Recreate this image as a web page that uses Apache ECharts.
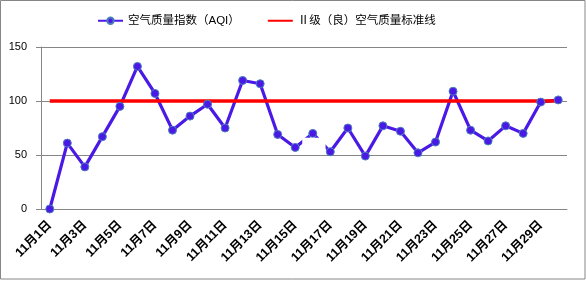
<!DOCTYPE html>
<html><head><meta charset="utf-8">
<script src="https://cdn.jsdelivr.net/npm/echarts@6/dist/echarts.min.js"></script>
<style>html,body{margin:0;padding:0;background:#fff}#c{width:586px;height:281px}</style>
</head><body><div id="c"></div>
<script>
var days = [];
for (var d = 1; d <= 30; d++) days.push('11月' + d + '日');
var aqiName = '空气质量指数（AQI）';
var stdName = 'Ⅱ级（良）空气质量标准线';
var aqi = [0, 61, 39, 67, 95, 132, 107, 73, 86, 97, 75, 119, 116, 69, 57, 70, 53, 75, 49, 77, 72, 52, 62, 109, 73, 63, 77, 70, 99, 101];
var standard = [100,100,100,100,100,100,100,100,100,100,100,100,100,100,100,100,100,100,100,100,100,100,100,100,100,100,100,100,100,100];
var yTicks = {min: 0, max: 150, interval: 50};

var chart = echarts.init(document.getElementById('c'));
var cjk = '"Liberation Sans", "Noto Sans CJK SC", sans-serif';
chart.setOption({
  animation: false,
  legend: {
    top: 15, left: 97, padding: 0, itemWidth: 25, itemHeight: 8, itemGap: 27,
    textStyle: {fontSize: 11.5, color: '#000', fontFamily: cjk},
    data: [{name: aqiName}, {name: stdName, itemStyle: {opacity: 0}}]
  },
  grid: {left: 41, right: 19, top: 47, bottom: 72},
  xAxis: {
    type: 'category', data: days, boundaryGap: true,
    axisLine: {lineStyle: {color: '#868686', width: 1}},
    axisTick: {interval: 1, length: 5, lineStyle: {color: '#868686'}},
    axisLabel: {interval: 1, rotate: 45, fontSize: 12.5, fontWeight: 'bold', color: '#000', fontFamily: cjk, margin: 14}
  },
  yAxis: {
    type: 'value', min: yTicks.min, max: yTicks.max, interval: yTicks.interval,
    axisLine: {show: true, lineStyle: {color: '#868686'}},
    axisTick: {show: true, length: 5, lineStyle: {color: '#868686'}},
    splitLine: {lineStyle: {color: '#868686', width: 1}},
    axisLabel: {fontSize: 11, color: '#000', fontFamily: '"Liberation Sans", sans-serif', margin: 14}
  },
  series: [
    {name: aqiName, type: 'line', data: aqi, symbol: 'circle', symbolSize: 8,
     lineStyle: {color: '#4b19e6', width: 3.2},
     itemStyle: {color: '#4b19e6', borderColor: '#4a7ebb', borderWidth: 1}},
    {name: stdName, type: 'line', data: standard, symbol: 'none',
     lineStyle: {color: '#ff0000', width: 3.5}, itemStyle: {color: '#ff0000'}}
  ]
});
// outer chart border and the small rendering gap in the reference line between 11/15 and 11/17
var a = chart.convertToPixel({gridIndex: 0}, [14, 66]);
var b = chart.convertToPixel({gridIndex: 0}, [15, 54]);
var step = b[0] - a[0];
chart.setOption({
  graphic: [
    {type: 'rect', shape: {x: 0.5, y: 0.5, width: 584.5, height: 278.5}, style: {fill: 'none', stroke: '#868686', lineWidth: 1}, silent: true, z: 100},
    {type: 'rect', shape: {x: a[0] + step * 0.4, y: a[1], width: step * 1.33, height: b[1] - a[1]}, style: {fill: '#fff'}, silent: true, z: 100}
  ]
});
</script></body></html>
